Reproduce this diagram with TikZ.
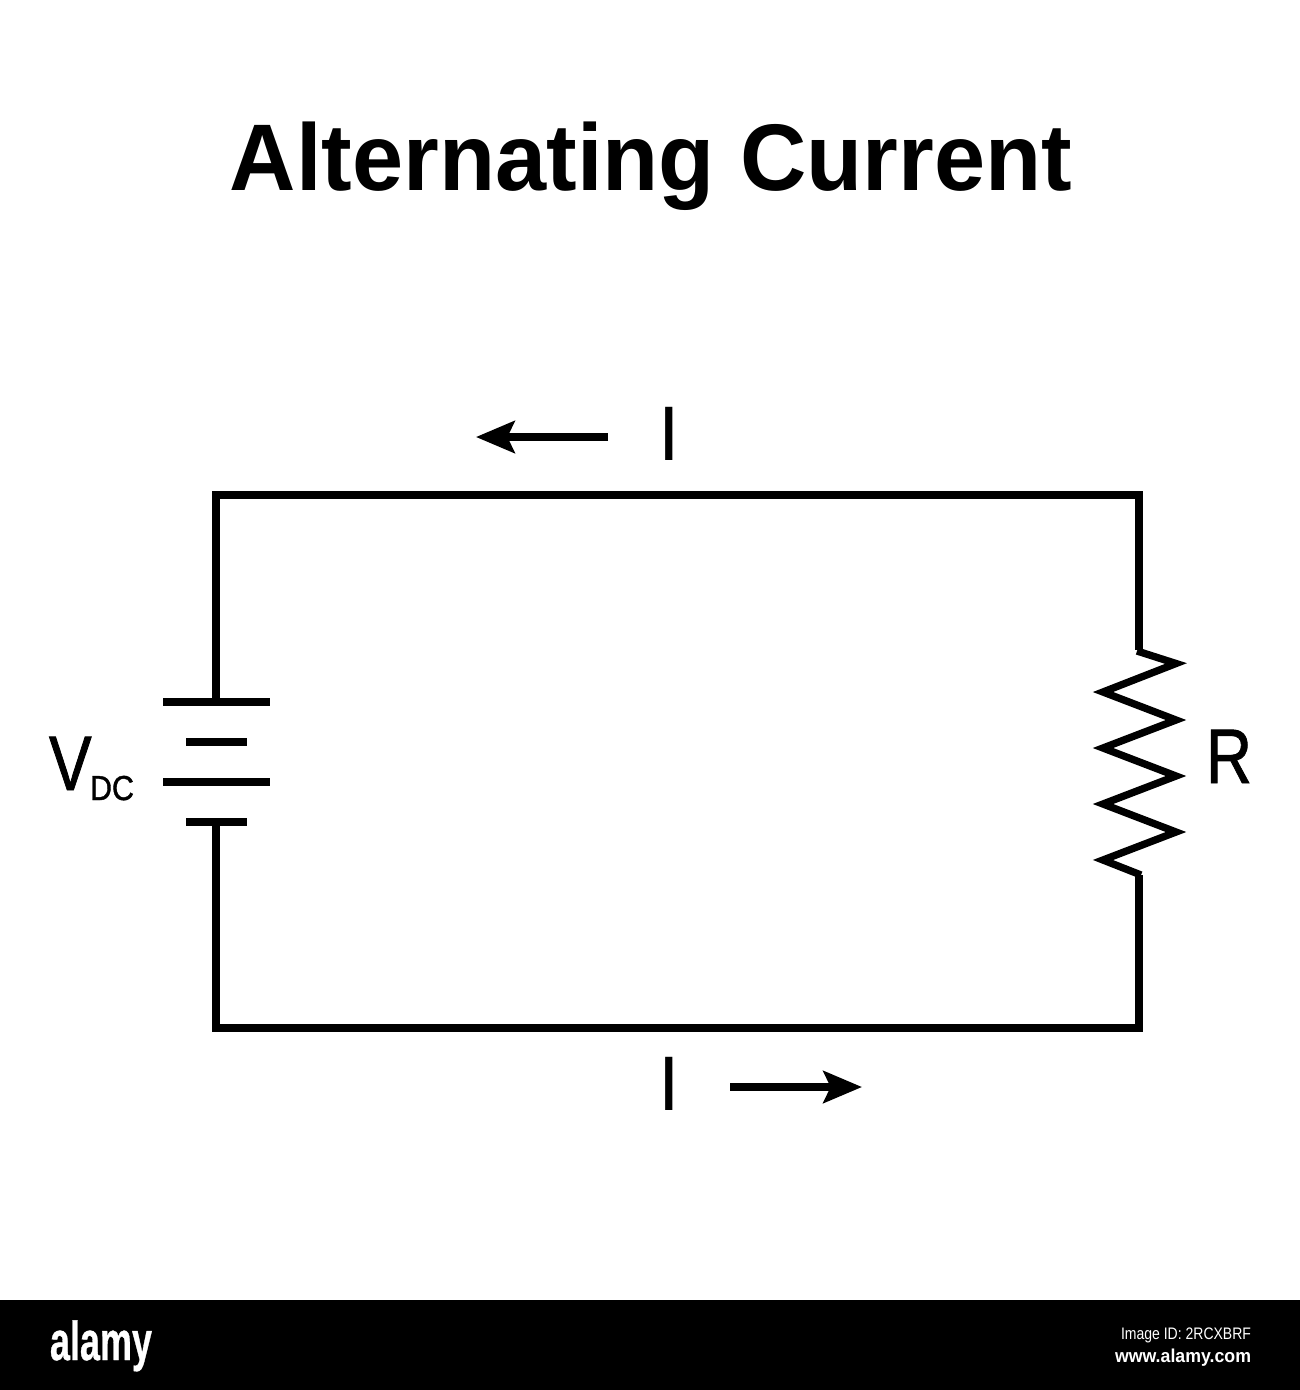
\documentclass[tikz,border=0pt]{standalone}
\usepackage{fontspec}
\setmainfont{Liberation Sans}
\newfontfamily\labelfont[FakeBold=1.2]{Liberation Sans}
\newfontfamily\logofont[FakeBold=0.8]{Liberation Sans Bold}
\usepackage{graphicx}
\usetikzlibrary{arrows.meta}
\tikzset{
  wire/.style={line width=5.3pt,line cap=butt,line join=miter},
  zigzag/.style={line width=5.5pt,line cap=butt,line join=miter},
  plate/.style={line width=5.3pt},
  cur/.style={line width=5.3pt,-{Stealth[length=29pt,width=24pt,inset=5.5pt]}},
  lbl/.style={inner sep=0pt,outer sep=0pt,text=black},
  band/.style={inner sep=0pt,outer sep=0pt,text=white}
}
\begin{document}
\begin{tikzpicture}[x=0.75pt,y=-0.75pt]
\useasboundingbox (0,0) rectangle (1300,1390);
\fill[white] (0,0) rectangle (1300,1390);
\fill[black] (0,1300) rectangle (1300,1390);
\node[lbl,anchor=base] (title) at (651,190) {\resizebox{631.5pt}{\height}{\fontsize{71}{80}\selectfont\bfseries Alternating Current}};
% corners
\coordinate (tl) at (216,495);
\coordinate (tr) at (1139,495);
\coordinate (bl) at (216,1028);
\coordinate (br) at (1139,1028);
% battery plates
\coordinate (p1l) at (163,702); \coordinate (p1r) at (270,702); \coordinate (p1m) at (216,702);
\coordinate (p2l) at (186,742); \coordinate (p2r) at (247,742);
\coordinate (p3l) at (163,782); \coordinate (p3r) at (270,782);
\coordinate (p4l) at (186,822); \coordinate (p4r) at (247,822); \coordinate (p4m) at (216,822);
\draw[plate] (p1l) -- (p1r);
\draw[plate] (p2l) -- (p2r);
\draw[plate] (p3l) -- (p3r);
\draw[plate] (p4l) -- (p4r);
% resistor ends
\coordinate (rt) at (1139,650);
\coordinate (rb) at (1139,875);
% wires
\draw[wire] (p1m) -- (tl) -- (tr) -- (rt);
\draw[wire] (p4m) -- (bl) -- (br) -- (rb);
\draw[zigzag] (1137,651) -- (1176,663.5) -- (1103,692) -- (1176,720) -- (1103,748) -- (1176,776) -- (1103,804) -- (1176,832) -- (1103,860) -- (1141,875);
% arrows
\coordinate (a1s) at (608,437); \coordinate (a1e) at (476,437);
\coordinate (a2s) at (730,1087); \coordinate (a2e) at (862,1087);
\draw[cur] (a1s) -- (a1e);
\draw[cur] (a2s) -- (a2e);
% labels
\node[lbl,anchor=base] (i1) at (669,460) {\fontsize{58}{60}\selectfont I};
\node[lbl,anchor=base] (i2) at (669,1110) {\fontsize{58}{60}\selectfont I};
\node[lbl,anchor=base west] (v) at (49,790) {\resizebox{32pt}{\height}{\labelfont\fontsize{58}{60}\selectfont V}};
\node[lbl,anchor=base west] (dc) at (90,800) {\resizebox{33pt}{\height}{\labelfont\fontsize{26}{27}\selectfont DC}};
\node[lbl,anchor=base west] (r) at (1206,783) {\resizebox{34.5pt}{\height}{\labelfont\fontsize{58}{60}\selectfont R}};
% band
\node[band,anchor=base west] (alamy) at (50,1360) {\resizebox{76.5pt}{\height}{\logofont\fontsize{41}{47}\selectfont alamy}};
\node[band,anchor=base east] (id) at (1251,1339) {\resizebox{97.5pt}{\height}{\fontsize{12.5}{14}\selectfont Image ID: 2RCXBRF}};
\node[band,anchor=base east] (www) at (1251,1362) {\resizebox{102pt}{\height}{\fontsize{14}{16}\selectfont\bfseries www.alamy.com}};
\end{tikzpicture}
\end{document}
